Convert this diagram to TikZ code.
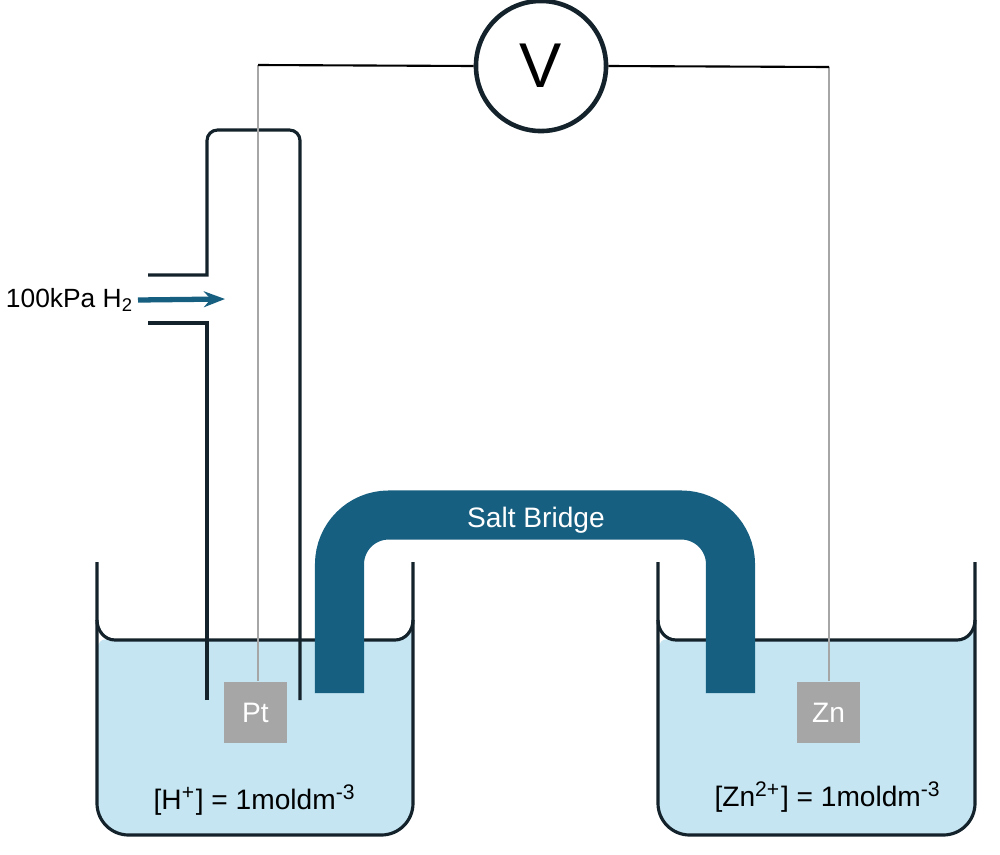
\documentclass[tikz,border=0pt]{standalone}
\usepackage{fontspec}
\setmainfont{Liberation Sans}
\usetikzlibrary{arrows.meta}
\definecolor{liquid}{HTML}{C5E5F3}
\definecolor{bridge}{HTML}{175F80}
\definecolor{outline}{HTML}{14232B}
\definecolor{metal}{HTML}{A6A6A6}
\tikzset{
  glass/.style={draw=outline, line width=0.9pt},
  wire/.style={draw=metal, line width=0.6pt},
  electrode/.style={fill=metal, draw=none, minimum width=0.63cm, minimum height=0.61cm, text=white, font=\fontsize{8}{9}\selectfont},
  lbl/.style={font=\fontsize{8}{9}\selectfont}
}
\begin{document}
\begin{tikzpicture}[x=0.01cm,y=-0.01cm]
    \useasboundingbox (0,0) rectangle (1000,854);
    %Begre med vaeske
    \foreach \xa/\xb in {97/413, 658/975}{
        \fill[liquid] (\xa,625) to[out=-90,in=180] (\xa+18,640) -- (\xb-18,640) to[out=0,in=-90] (\xb,625)
            [rounded corners=9pt] -- (\xb,835) -- (\xa,835) -- cycle;
        \draw[glass, rounded corners=9pt] (\xa,562) -- (\xa,835) -- (\xb,835) -- (\xb,562);
        \draw[glass] (\xa,620) to[out=-90,in=180] (\xa+18,640) -- (\xb-18,640) to[out=0,in=-90] (\xb,620);
    }
    %Saltbro
    \draw[bridge, line width=0.49cm, rounded corners=14pt] (339.5,693) -- (339.5,515) -- (730.5,515) -- (730.5,693);
    \node[text=white, lbl] (bridge) at (536,520) {Salt Bridge};
    %H2 roer
    \draw[glass] (148,275) -- (207,275) -- (207,200) [rounded corners=3pt] -- (207,130) -- (300,130) -- (300,700);
    \draw[glass] (148,323) -- (207,323) -- (207,700);
    \node[lbl, anchor=east, inner sep=1pt, font=\fontsize{7.5}{9}\selectfont] (gas) at (138,300) {100kPa H\textsubscript{2}};
    \coordinate (inlet) at (225,299);
    \draw[bridge, line width=1.5pt, -{Stealth[length=6pt]}] (gas.east) -- (inlet);
    %Voltmeter
    \node[circle, draw=outline, line width=1.3pt, fill=white, minimum size=1.3cm, font=\fontsize{18}{20}\selectfont] (volt) at (541,66) {V};
    \node[electrode] (pt) at (255.5,712.5) {Pt};
    \node[electrode] (zn) at (828.5,712.5) {Zn};
    \coordinate (ptTop) at (258,65);
    \coordinate (znTop) at (829,67);
    \draw[wire] (ptTop) -- (ptTop |- pt.north);
    \draw[wire] (znTop) -- (znTop |- zn.north);
    \draw[black, line width=0.6pt] (ptTop) -- (volt.west);
    \draw[black, line width=0.6pt] (volt.east) -- (znTop);
    %Konsentrasjoner
    \node[lbl] (hconc) at (255,800) {[H\textsuperscript{+}] = 1moldm\textsuperscript{-3}};
    \node[lbl] (znconc) at (828,797) {[Zn\textsuperscript{2+}] = 1moldm\textsuperscript{-3}};
\end{tikzpicture}
\end{document}
